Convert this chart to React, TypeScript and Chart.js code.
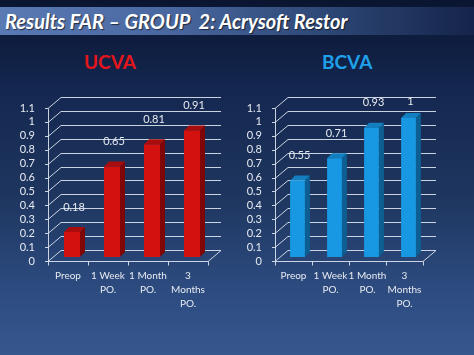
import React, { useEffect, useRef } from "react";
import { Chart, registerables } from "chart.js";

Chart.register(...registerables);

const categories: (string | string[])[] = ["Preop", ["1 Week", "PO."], ["1 Month", "PO."], ["3", "Months", "PO."]];
const ucvaValues = [0.18, 0.65, 0.81, 0.91];
const bcvaValues = [0.55, 0.71, 0.93, 1];
const yMin = 0;
const yMax = 1.1;
const yStep = 0.1;

const threeD = {
  id: "threeD",
  beforeDatasetsDraw(chart: any, _a: any, opts: any) {
    const { ctx, chartArea, scales } = chart;
    const { left, right } = chartArea;
    const y = scales.y;
    const dx = opts.dx, dy = opts.dy;
    ctx.save();
    ctx.strokeStyle = opts.gridColor;
    ctx.lineWidth = 1;
    const y0 = Math.round(y.getPixelForValue(yMin)) + 0.5;
    const yTop = Math.round(y.getPixelForValue(yMax)) + 0.5;
    ctx.beginPath();
    y.ticks.forEach((t: any) => {
      const py = Math.round(y.getPixelForValue(t.value)) + 0.5;
      ctx.moveTo(left, py);
      ctx.lineTo(left + dx, py - dy);
      ctx.lineTo(right + dx, py - dy);
      ctx.moveTo(left - 3, py);
      ctx.lineTo(left, py);
    });
    ctx.moveTo(left, y0);
    ctx.lineTo(right, y0);
    ctx.lineTo(right + dx, y0 - dy);
    ctx.moveTo(left + 0.5, y0);
    ctx.lineTo(left + 0.5, yTop);
    const n = chart.data.labels.length;
    for (let i = 0; i <= n; i++) {
      const bx = Math.round(left + (i * (right - left)) / n) + 0.5;
      ctx.moveTo(bx, y0);
      ctx.lineTo(bx, y0 + 4);
    }
    ctx.stroke();
    ctx.restore();
  },
  afterDatasetsDraw(chart: any, _a: any, opts: any) {
    const { ctx, scales } = chart;
    const y = scales.y;
    const meta = chart.getDatasetMeta(0);
    const values = chart.data.datasets[0].data;
    const ox = opts.ox, oy = opts.oy, bdx = opts.bdx, bdy = opts.bdy;
    const topClamp = y.getPixelForValue(yMax) - 7;
    ctx.save();
    meta.data.forEach((bar: any, i: number) => {
      const p = bar.getProps(["x", "y", "base", "width"], true);
      const x1 = p.x - p.width / 2 + ox;
      const x2 = p.x + p.width / 2 + ox;
      const t = p.y - oy;
      const b = p.base - oy;
      ctx.fillStyle = opts.side;
      ctx.beginPath();
      ctx.moveTo(x2, t);
      ctx.lineTo(x2 + bdx, t - bdy);
      ctx.lineTo(x2 + bdx, b - bdy);
      ctx.lineTo(x2, b);
      ctx.closePath();
      ctx.fill();
      ctx.fillStyle = opts.top;
      ctx.beginPath();
      ctx.moveTo(x1, t);
      ctx.lineTo(x2, t);
      ctx.lineTo(x2 + bdx, t - bdy);
      ctx.lineTo(x1 + bdx, t - bdy);
      ctx.closePath();
      ctx.fill();
      ctx.fillStyle = opts.front;
      ctx.fillRect(x1, t, x2 - x1, b - t);
      ctx.fillStyle = opts.labelColor;
      ctx.font = "11px Lato";
      ctx.textAlign = "center";
      ctx.textBaseline = "middle";
      const ly = Math.max(t - 25, topClamp);
      ctx.fillText(String(values[i]), (x1 + x2) / 2 + 2, ly);
    });
    ctx.restore();
  },
};

type BarProps = {
  values: number[];
  left: number;
  top: number;
  width: number;
  height: number;
  axisWidth: number;
  padRight: number;
  padTop: number;
  plotBottom: number;
  front: string;
  side: string;
  topColor: string;
};

function Bar3D(props: BarProps) {
  const ref = useRef<HTMLCanvasElement>(null);
  useEffect(() => {
    if (!ref.current) return;
    const chart = new Chart(ref.current, {
      type: "bar",
      data: {
        labels: categories,
        datasets: [
          {
            data: props.values,
            backgroundColor: "rgba(0,0,0,0)",
            barPercentage: 0.4,
            categoryPercentage: 1,
          },
        ],
      },
      options: {
        responsive: false,
        animation: false,
        layout: { padding: { left: 0, right: props.padRight, top: props.padTop, bottom: 0 } },
        plugins: {
          legend: { display: false },
          tooltip: { enabled: false },
          threeD: {
            dx: 13,
            dy: 11,
            gridColor: "rgba(222,228,240,0.9)",
            ox: 4,
            oy: 4,
            bdx: 5,
            bdy: 5,
            front: props.front,
            side: props.side,
            top: props.topColor,
            labelColor: "#e6eaf0",
          },
        } as any,
        scales: {
          x: {
            grid: { display: false },
            border: { display: false },
            ticks: {
              color: "#e6eaf0",
              font: { family: "Lato", size: 10, lineHeight: 1.4 },
              padding: 0,
              maxRotation: 0,
              autoSkip: false,
            },
            afterFit: (s: any) => {
              s.height = props.height - props.plotBottom;
            },
          },
          y: {
            min: yMin,
            max: yMax,
            grid: { display: false },
            border: { display: false },
            ticks: {
              stepSize: yStep,
              autoSkip: false,
              color: "#e6eaf0",
              font: { family: "Lato", size: 11 },
              padding: 5,
              callback: (v: any) => String(Number(Number(v).toFixed(1))),
            },
            afterFit: (s: any) => {
              s.width = props.axisWidth;
            },
          },
        },
      },
      plugins: [threeD as any],
    });
    return () => chart.destroy();
  }, []);
  return (
    <canvas
      ref={ref}
      width={props.width}
      height={props.height}
      style={{ position: "absolute", left: props.left, top: props.top, width: props.width, height: props.height }}
    />
  );
}

export default function App() {
  return (
    <div
      style={{
        position: "fixed",
        left: 0,
        top: 0,
        width: 474,
        height: 355,
        overflow: "hidden",
        background: "linear-gradient(to bottom, #0a1530 0%, #142750 25%, #1e365f 55%, #2c4a7e 80%, #36578e 100%)",
        fontFamily: "Lato, sans-serif",
      }}
    >
      <div
        style={{
          position: "absolute",
          left: 0,
          top: 7,
          width: 474,
          height: 28,
          background: "linear-gradient(to right, #5a7ab4 0%, #4a68a0 35%, #2c4674 70%, #15244a 100%)",
        }}
      />
      <div
        style={{
          position: "absolute",
          left: 5,
          top: 8,
          height: 26,
          lineHeight: "26px",
          color: "#ffffff",
          fontWeight: 700,
          fontStyle: "italic",
          fontSize: 20,
          whiteSpace: "pre",
          textShadow: "1px 1px 1px rgba(0,0,0,0.6)",
        }}
      >
        {"Results FAR \u2013 GROUP  2: Acrysoft Restor"}
      </div>
      <div
        style={{
          position: "absolute",
          left: 84,
          top: 52,
          lineHeight: "20px",
          color: "#e3161b",
          fontWeight: 700,
          fontSize: 19,
        }}
      >
        UCVA
      </div>
      <div
        style={{
          position: "absolute",
          left: 322,
          top: 52,
          lineHeight: "20px",
          color: "#1ea0ea",
          fontWeight: 700,
          fontSize: 19,
        }}
      >
        BCVA
      </div>
      <Bar3D
        values={ucvaValues}
        left={0}
        top={90}
        width={237}
        height={235}
        axisWidth={48}
        padRight={29}
        padTop={18}
        plotBottom={171}
        front="#d3110f"
        side="#7e0606"
        topColor="#a80c0c"
      />
      <Bar3D
        values={bcvaValues}
        left={237}
        top={90}
        width={237}
        height={235}
        axisWidth={38}
        padRight={51}
        padTop={18}
        plotBottom={171}
        front="#1898e2"
        side="#0d5f93"
        topColor="#137fc0"
      />
    </div>
  );
}
